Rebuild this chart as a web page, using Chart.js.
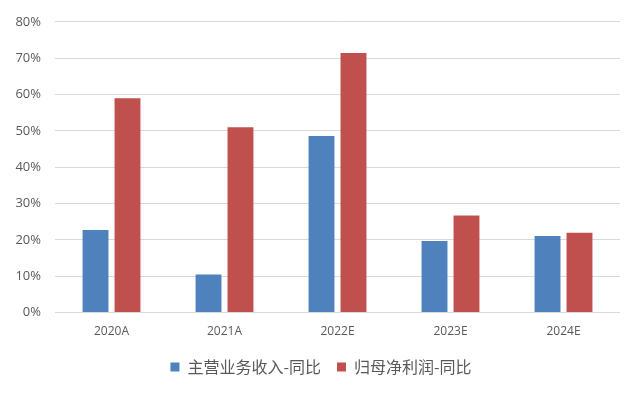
<!DOCTYPE html>
<html>
<head>
<meta charset="utf-8">
<script src="https://cdn.jsdelivr.net/npm/chart.js@4"></script>
<style>
  html, body { margin: 0; padding: 0; background: #fff; }
  #wrap { width: 640px; height: 393px; }
</style>
</head>
<body>
<div id="wrap"><canvas id="chart"></canvas></div>
<script>
const categories = ['2020A', '2021A', '2022E', '2023E', '2024E'];
const revenueYoY = [22.7, 10.5, 48.6, 19.7, 21.1];
const profitYoY = [59.0, 51.0, 71.4, 26.7, 22.0];
const seriesNames = ['主营业务收入-同比', '归母净利润-同比'];

const ctx = document.getElementById('chart').getContext('2d');

// nudge the legend a little to the right, like the original
const legendShift = {
  id: 'legendShift',
  afterLayout(chart) {
    chart.legend.left += 11;
    chart.legend.right += 11;
  }
};

new Chart(ctx, {
  type: 'bar',
  data: {
    labels: categories,
    datasets: [{
      label: seriesNames[0],
      data: revenueYoY,
      backgroundColor: '#4f81bd'
    }, {
      label: seriesNames[1],
      data: profitYoY,
      backgroundColor: '#c0504d'
    }]
  },
  options: {
    responsive: true,
    maintainAspectRatio: false,
    animation: false,
    categoryPercentage: 0.566,
    barPercentage: 0.81,
    layout: {
      padding: { top: 11, right: 20, bottom: 8, left: 0 }
    },
    plugins: {
      legend: {
        position: 'bottom',
        labels: {
          boxWidth: 9,
          boxHeight: 9,
          padding: 16,
          color: '#595959',
          font: { family: '"Noto Sans CJK SC"', size: 16 }
        }
      },
      tooltip: { enabled: false }
    },
    scales: {
      x: {
        grid: { display: false },
        border: { display: false },
        ticks: {
          color: '#595959',
          padding: 4,
          font: { family: '"Open Sans"', size: 12 }
        }
      },
      y: {
        min: 0,
        max: 80,
        afterFit: function(axis) { axis.width = 55; },
        grid: { color: '#d9d9d9', drawTicks: false },
        border: { display: false },
        ticks: {
          stepSize: 10,
          padding: 14,
          color: '#595959',
          font: { family: '"Open Sans"', size: 13 },
          callback: function(value) { return value + '%'; }
        }
      }
    }
  },
  plugins: [legendShift]
});
</script>
</body>
</html>
